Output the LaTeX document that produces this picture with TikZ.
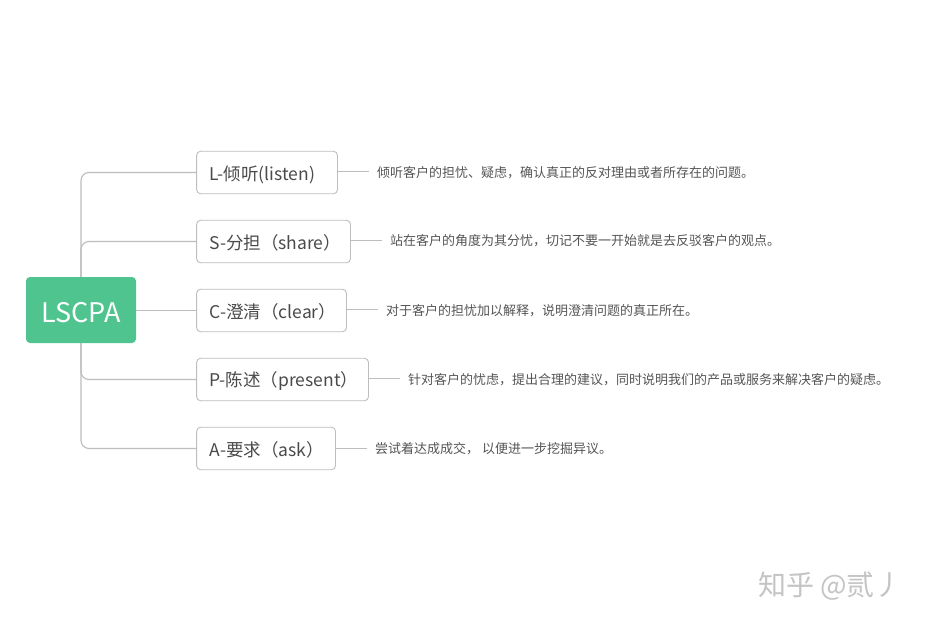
\documentclass[tikz,border=0pt]{standalone}
\usepackage{fontspec}
\setmainfont{Noto Sans CJK SC}
\usetikzlibrary{calc}
\definecolor{rootgreen}{HTML}{4FC48E}
\definecolor{linegray}{HTML}{BDBDBD}
\definecolor{boxgray}{HTML}{BEBEBE}
\definecolor{txtgray}{HTML}{4A4A4A}
\definecolor{descgray}{HTML}{555555}
\definecolor{markgray}{HTML}{C4C4C4}
\newcommand{\dropped}[2]{\raisebox{-#1}[\height][\depth]{#2}}
\tikzset{
  rootbox/.style={fill=rootgreen,rounded corners=4pt,minimum width=110pt,minimum height=66pt,inner sep=0pt,text=white,font=\fontsize{27}{32}\selectfont},
  branch/.style={draw=boxgray,line width=0.9pt,fill=white,rounded corners=4pt,minimum height=42.5pt,inner ysep=0pt,inner xsep=12.8pt,align=left,text=txtgray,font=\fontsize{17.5}{22}\selectfont,anchor=west},
  desc/.style={anchor=west,inner xsep=8pt,inner ysep=0pt,text=descgray,font=\fontsize{13}{16}\selectfont},
  conn/.style={draw=linegray,line width=1.1pt,rounded corners=8pt},
  lead/.style={draw=linegray,line width=0.9pt},
}
\begin{document}
\begin{tikzpicture}[x=1pt,y=-1pt]
\useasboundingbox[fill=white] (0,0) rectangle (927,625);
\node[rootbox] (root) at (81,310) {\dropped{2.5pt}{LSCPA}};
\node[branch,text width=115.2pt] (l) at (196.2,172.5) {\dropped{2pt}{L-倾听(listen)}};
\node[branch,text width=128.2pt] (s) at (196.2,241.5) {\dropped{1.5pt}{S-分担（share）}};
\node[branch,text width=124.2pt] (c) at (196.2,310.5) {\dropped{1.5pt}{C-澄清（clear）}};
\node[branch,text width=146.2pt] (p) at (196.2,379.5) {\dropped{2pt}{P-陈述（present）}};
\node[branch,text width=113.2pt] (a) at (196.2,448.5) {\dropped{1.5pt}{A-要求（ask）}};
\node[desc] (dl) at (369,171) {\dropped{1.5pt}{倾听客户的担忧、疑虑，确认真正的反对理由或者所存在的问题。}};
\node[desc] (ds) at (382,240) {\dropped{1pt}{站在客户的角度为其分忧，切记不要一开始就是去反驳客户的观点。}};
\node[desc] (dc) at (378,309) {\dropped{1.5pt}{对于客户的担忧加以解释，说明澄清问题的真正所在。}};
\node[desc] (dp) at (400,378) {\dropped{1.5pt}{针对客户的忧虑，提出合理的建议，同时说明我们的产品或服务来解决客户的疑虑。}};
\node[desc] (da) at (367,448) {\dropped{0.5pt}{尝试着达成成交， 以便进一步挖掘异议。}};
\draw[conn] (root.north) |- (l.west);
\draw[conn] (root.north) |- (s.west);
\draw[conn] (root.east |- c.west) -- (c.west);
\draw[conn] (root.south) |- (p.west);
\draw[conn] (root.south) |- (a.west);
\draw[lead] (l.east |- dl.west) -- (dl.west);
\draw[lead] (s.east |- ds.west) -- (ds.west);
\draw[lead] (c.east |- dc.west) -- (dc.west);
\draw[lead] (p.east |- dp.west) -- (dp.west);
\draw[lead] (a.east |- da.west) -- (da.west);
\node[anchor=west,inner sep=0pt,text=markgray,font=\fontsize{28}{30}\selectfont] (mark) at (758,586) {知乎 @贰丿};
\end{tikzpicture}
\end{document}
